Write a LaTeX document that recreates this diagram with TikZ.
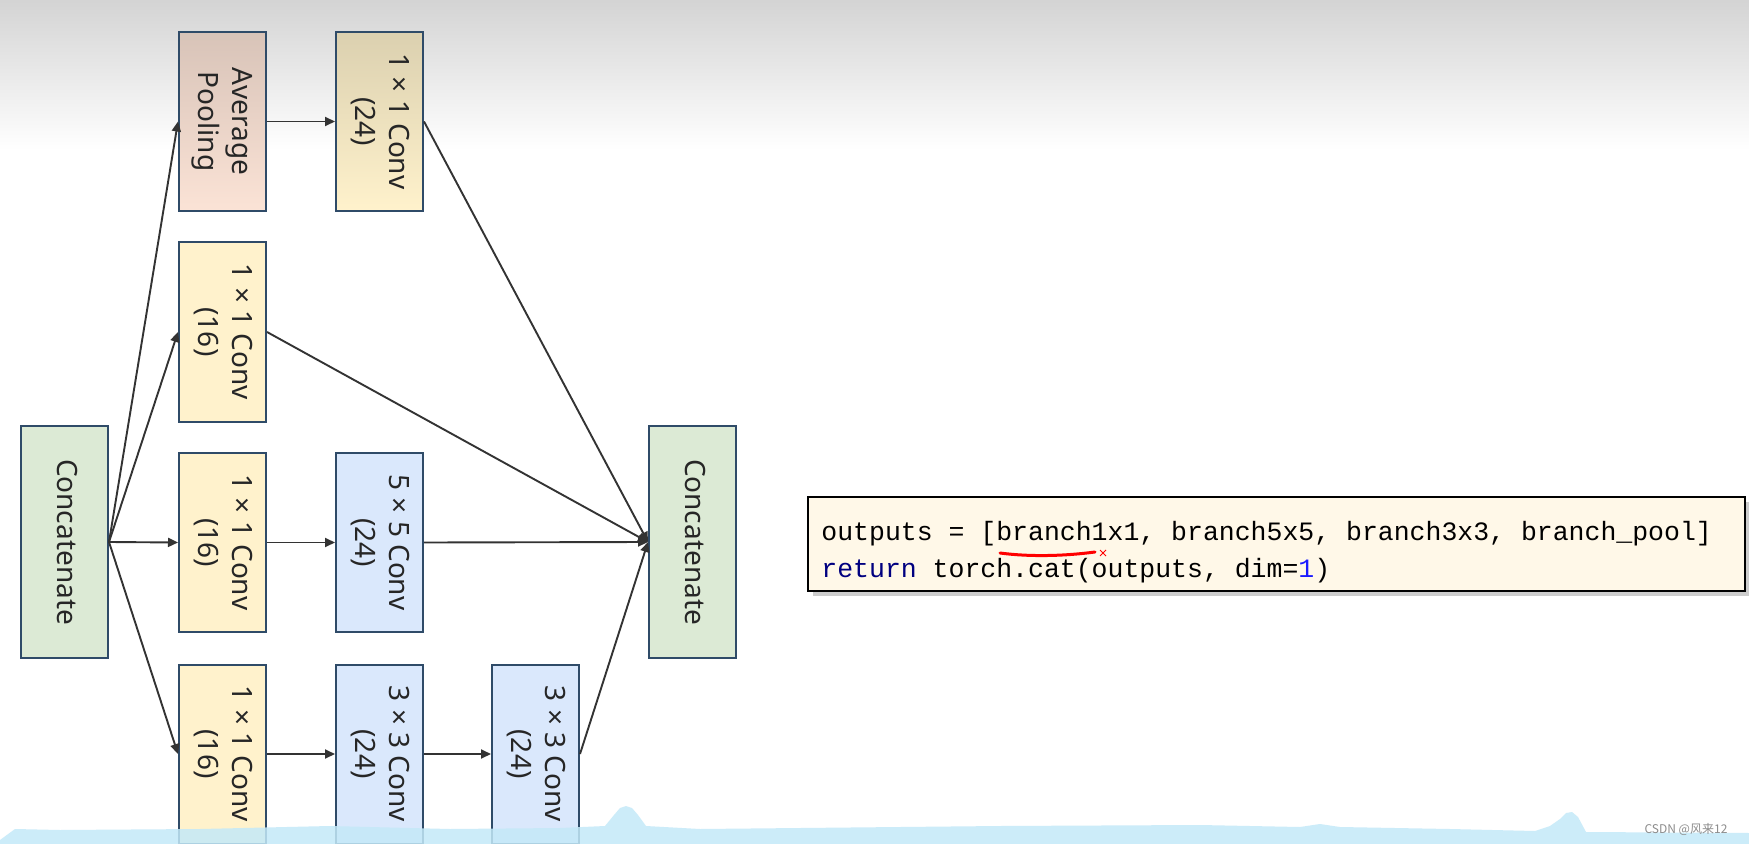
\documentclass[tikz,border=0pt]{standalone}
\usepackage{fontspec}
\usepackage{graphicx}
\usetikzlibrary{arrows.meta,shadows}
\newfontfamily\boxfont{Noto Sans}
\newfontfamily\codefont{Liberation Mono}
\newfontfamily\cjkfont{Noto Sans CJK SC}
\definecolor{boxline}{HTML}{2F4B68}
\definecolor{yellowfill}{HTML}{FFF2CC}
\definecolor{bluefill}{HTML}{DAE8FC}
\definecolor{greenfill}{HTML}{DCEAD5}
\definecolor{peachfill}{HTML}{FBE3D6}
\definecolor{codefill}{HTML}{FFF8E8}
\definecolor{arrowgray}{HTML}{333333}
\definecolor{retblue}{HTML}{000080}
\definecolor{numblue}{HTML}{1A1AFF}
\definecolor{wavefill}{HTML}{C4E9F8}
\newcommand{\vtext}[1]{\rotatebox{-90}{\begin{tabular}{@{}c@{}}#1\end{tabular}}}
\begin{document}
\begin{tikzpicture}[x=0.5pt, y=-0.5pt, >={Triangle[length=5pt,width=4.5pt]},
  block/.style={draw=boxline, line width=1pt, minimum width=43.5pt, minimum height=89.5pt,
    inner sep=0pt, font=\boxfont\fontsize{14}{17}\selectfont, text=black!85},
  concat/.style={block, fill=greenfill, minimum height=116pt},
  conv/.style={block, fill=yellowfill},
  bigconv/.style={block, fill=bluefill},
  link/.style={->, draw=arrowgray, line width=0.95pt},
  codetext/.style={font=\codefont\fontsize{13.25}{18.5}\selectfont, inner sep=0pt, anchor=base west}]
  \useasboundingbox (0,0) rectangle (1749,844);
  % 背景
  \fill[white] (0,0) rectangle (1749,844);
  \shade[top color=black!17, bottom color=white] (0,0) rectangle (1749,150);

  % 输入与输出
  \node[concat] (inp) at (64.5,542) {\vtext{Concatenate}};
  \node[concat] (out) at (692.5,542) {\vtext{Concatenate}};

  % 四个分支
  \node[block, top color=peachfill!86!black, bottom color=peachfill] (pool) at (222.5,121.5) {\vtext{Average\\Pooling}};
  \node[block, top color=yellowfill!86!black, bottom color=yellowfill] (c24) at (379.5,121.5) {\vtext{1 × 1 Conv\\(24)}};
  \node[conv] (b1) at (222.5,332) {\vtext{1 × 1 Conv\\(16)}};
  \node[conv] (b5a) at (222.5,542.5) {\vtext{1 × 1 Conv\\(16)}};
  \node[bigconv] (b5b) at (379.5,542.5) {\vtext{5 × 5 Conv\\(24)}};
  \node[conv] (b3a) at (222.5,754) {\vtext{1 × 1 Conv\\(16)}};
  \node[bigconv] (b3b) at (379.5,754) {\vtext{3 × 3 Conv\\(24)}};
  \node[bigconv] (b3c) at (535.5,754) {\vtext{3 × 3 Conv\\(24)}};

  % 连线
  \foreach \b in {pool,b1,b5a,b3a}
    \draw[link] (inp.east) -- (\b.west);
  \draw[link] (pool.east) -- (c24.west);
  \draw[link] (b5a.east) -- (b5b.west);
  \draw[link] (b3a.east) -- (b3b.west);
  \draw[link] (b3b.east) -- (b3c.west);
  \foreach \b in {c24,b1,b5b,b3c}
    \draw[link] (\b.east) -- (out.west);

  % 代码框
  \node[draw=black, line width=1pt, fill=codefill, minimum width=468.5pt, minimum height=47pt,
    drop shadow={shadow xshift=2.5pt, shadow yshift=-2.5pt, opacity=0.4}] (code) at (1276,544) {};
  \node[codetext] (line1) at (821,540) {outputs = [branch1x1, branch5x5, branch3x3, branch\_pool]};
  \node[codetext] (line2) at (821,577) {\textcolor{retblue}{return} torch.cat(outputs, dim=\textcolor{numblue}{1})};
  \draw[red, line width=1.5pt, line cap=round] (1000,553) .. controls (1030,557) and (1065,556) .. (1095,552);
  \draw[red, line width=0.5pt] (1100,550) -- (1106,556) (1100,556) -- (1106,550);

  % 底部波纹与水印
  \fill[wavefill, opacity=0.85] (0,844) -- (0,840) -- (15,829) -- (60,830) -- (200,829) -- (330,826)
    -- (450,829) -- (560,828) -- (605,826) -- (614,815) -- (620,808) -- (626,806) -- (632,808)
    -- (638,815) -- (646,826) -- (700,829) -- (900,827) -- (1000,826) -- (1200,825) -- (1300,827)
    -- (1320,824) -- (1340,827) -- (1450,829) -- (1535,831) -- (1550,826) -- (1560,819) -- (1566,813)
    -- (1572,812) -- (1578,817) -- (1586,832) -- (1749,833) -- (1749,844) -- cycle;
  \node[font=\cjkfont\fontsize{6}{7}\selectfont, text=black!45, inner sep=0pt] (mark) at (1686,829) {CSDN @风来12};
\end{tikzpicture}
\end{document}
